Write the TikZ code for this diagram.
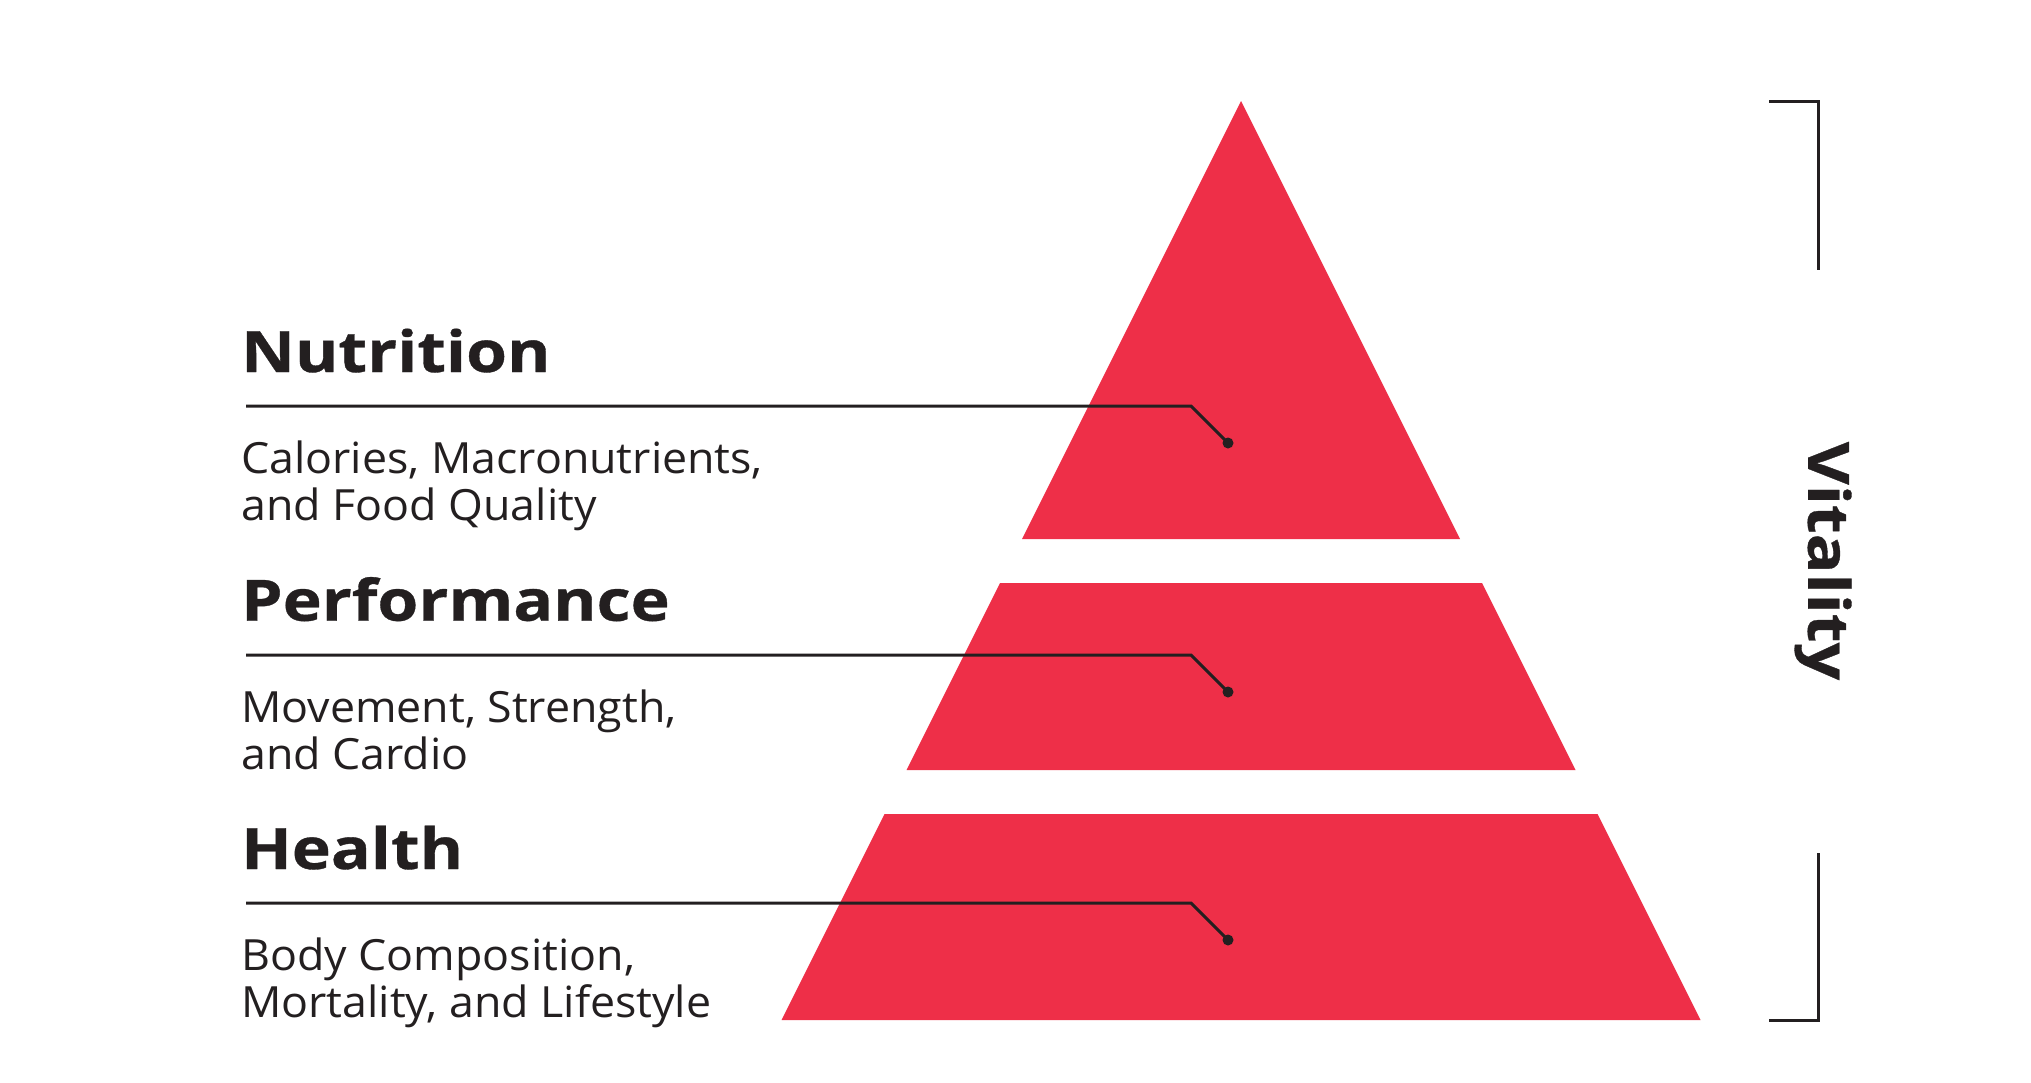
\documentclass[tikz,border=0pt]{standalone}
\usepackage{fontspec}
\setmainfont{Open Sans}[FakeStretch=1.04]
\newfontfamily\headfont{Open Sans}[FakeStretch=1.16, FakeBold=0.6]
\usepackage{tikz}
\usepackage{xcolor}
\usetikzlibrary{positioning}
\definecolor{pyrred}{HTML}{EE2F48}
\definecolor{ink}{HTML}{231F20}
\tikzset{
  title/.style={anchor=base west, inner sep=0pt, text=ink, font=\fontsize{57}{60}\headfont\bfseries},
  desc/.style={anchor=base west, inner sep=0pt, text=ink, align=left, font=\fontsize{43}{46.7}\selectfont},
  leader/.style={draw=ink, line width=3pt},
  dot/.style={circle, fill=ink, inner sep=0pt, minimum size=11pt},
  layer/.style={fill=pyrred},
  brk/.style={draw=ink, line width=3pt}
}

\begin{document}
\begin{tikzpicture}[x=1pt, y=-1pt]
        \useasboundingbox (0, 0) rectangle (2031, 1082);

        % pyramid
        \fill [layer] (1241, 101) -- (1460, 539) -- (1022, 539) -- cycle;
        \fill [layer] (1000, 583) -- (1482, 583) -- (1575.5, 770) -- (906.5, 770) -- cycle;
        \fill [layer] (884.5, 814) -- (1597.5, 814) -- (1700.5, 1020) -- (781.5, 1020) -- cycle;

        \node [title] (nutr) at (241, 372) {Nutrition};
        \node [title] (perf) at (241, 620.7) {Performance};
        \node [title] (hlth) at (241, 869) {Health};

        % base = last line
        \node [desc] (nutrD) at (241, 520.3) {Calories, Macronutrients,\\and Food Quality};
        \node [desc] (perfD) at (241, 769.3) {Movement, Strength,\\and Cardio};
        \node [desc] (hlthD) at (241, 1017.3) {Body Composition,\\Mortality, and Lifestyle};

        \coordinate (nutrL) at (246, 406);
        \coordinate (perfL) at (246, 655);
        \coordinate (hlthL) at (246, 903);
        \coordinate (nutrE) at (1191, 406);
        \coordinate (perfE) at (1191, 655);
        \coordinate (hlthE) at (1191, 903);
        \node [dot] (nutrP) at (1228, 443) {};
        \node [dot] (perfP) at (1228, 692) {};
        \node [dot] (hlthP) at (1228, 940) {};

        \draw [leader] (nutrL) -- (nutrE) -- (nutrP.center);
        \draw [leader] (perfL) -- (perfE) -- (perfP.center);
        \draw [leader] (hlthL) -- (hlthE) -- (hlthP.center);

        % bracket
        \coordinate (bt1) at (1769, 101);
        \coordinate (bt2) at (1818.5, 101);
        \coordinate (bt3) at (1818.5, 270);
        \coordinate (bb1) at (1818.5, 853);
        \coordinate (bb2) at (1818.5, 1020.5);
        \coordinate (bb3) at (1769, 1020.5);
        \draw [brk] (bt1) -- (bt2) -- (bt3);
        \draw [brk] (bb1) -- (bb2) -- (bb3);
        \node [title, anchor=center, rotate=-90] (vit) at (1823, 561) {Vitality};
    \end{tikzpicture}
\end{document}
